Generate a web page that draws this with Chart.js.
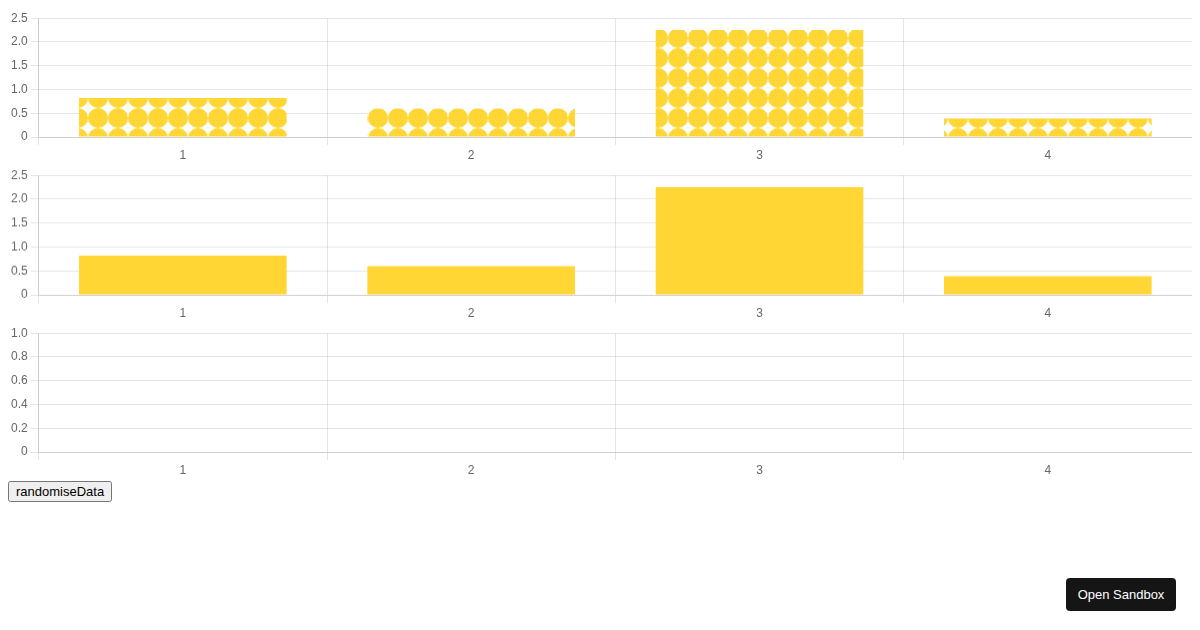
<!DOCTYPE html>
<html>
<head>
<meta charset="utf-8">
<script src="https://cdn.jsdelivr.net/npm/chart.js@4"></script>
<style>
  body { margin: 8px; font-family: "Liberation Sans", Arial, sans-serif; background: #fff; }
  .wrap { position: relative; height: 157.4px; width: 1184px; }
  #rand { font-family: Arial, "Liberation Sans", sans-serif; font-size: 13px; padding: 1px 6px; margin-top: 1px; }
  #sandbox {
    position: fixed; right: 24px; bottom: 19px; width: 110px; height: 33px;
    background: #151515; color: #fff; border: none; border-radius: 4px;
    font-family: "Liberation Sans", Arial, sans-serif; font-size: 13px;
  }
</style>
</head>
<body>
<div class="wrap"><canvas id="c1"></canvas></div>
<div class="wrap"><canvas id="c2"></canvas></div>
<div class="wrap"><canvas id="c3"></canvas></div>
<button id="rand">randomiseData</button>
<button id="sandbox">Open Sandbox</button>
<script>
const categories = ['1', '2', '3', '4'];
const seriesValues = [0.82, 0.6, 2.25, 0.39];
const emptyValues = [];

const yellow = 'rgb(255, 214, 51)';

function makePattern() {
  const t = document.createElement('canvas');
  t.width = 20; t.height = 20;
  const g = t.getContext('2d');
  g.fillStyle = '#ffffff';
  g.fillRect(0, 0, 20, 20);
  g.fillStyle = yellow;
  g.beginPath();
  g.arc(10, 10, 10, 0, Math.PI * 2);
  g.fill();
  return g.createPattern(t, 'repeat');
}

function baseOptions() {
  return {
    responsive: true,
    maintainAspectRatio: false,
    animation: false,
    plugins: { legend: { display: false }, tooltip: { enabled: false } },
    scales: {
      x: { ticks: { color: '#666' } },
      y: { beginAtZero: true, ticks: { color: '#666' } }
    }
  };
}

Chart.defaults.font.family = '"Liberation Sans", Arial, sans-serif';
Chart.defaults.font.size = 12;

new Chart(document.getElementById('c1'), {
  type: 'bar',
  data: { labels: categories, datasets: [{ data: seriesValues, backgroundColor: makePattern(), borderWidth: 0 }] },
  options: baseOptions()
});
new Chart(document.getElementById('c2'), {
  type: 'bar',
  data: { labels: categories, datasets: [{ data: seriesValues, backgroundColor: yellow, borderWidth: 0 }] },
  options: baseOptions()
});
new Chart(document.getElementById('c3'), {
  type: 'bar',
  data: { labels: categories, datasets: [{ data: emptyValues, backgroundColor: yellow }] },
  options: baseOptions()
});
</script>
</body>
</html>
